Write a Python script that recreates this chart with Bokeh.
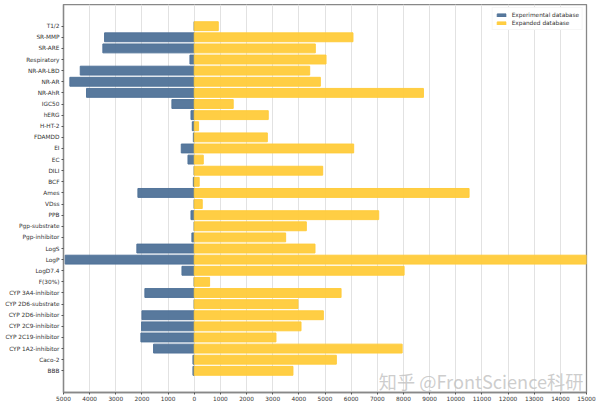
from bokeh.embed import file_html
from bokeh.models import ColumnDataSource, FactorRange, FixedTicker, Label
from bokeh.plotting import figure
from bokeh.resources import INLINE

# top to bottom, same order as the picture
tasks = ["T1/2", "SR-MMP", "SR-ARE", "Respiratory", "NR-AR-LBD", "NR-AR", "NR-AhR", "IGC50",
         "hERG", "H-HT-2", "FDAMDD", "EI", "EC", "DILI", "BCF", "Ames", "VDss", "PPB",
         "Pgp-substrate", "Pgp-inhibitor", "LogS", "LogP", "LogD7.4", "F(30%)",
         "CYP 3A4-inhibitor", "CYP 2D6-substrate", "CYP 2D6-inhibitor", "CYP 2C9-inhibitor",
         "CYP 2C19-inhibitor", "CYP 1A2-inhibitor", "Caco-2", "BBB"]
experimental = [0, 3430, 3495, 165, 4360, 4757, 4120, 855,
                125, 75, 35, 497, 240, 0, 35, 2155, 0, 125,
                0, 90, 2195, 4936, 470, 0,
                1888, 0, 2000, 2015,
                2040, 1556, 50, 50]
expanded = [920, 6070, 4630, 5040, 4415, 4822, 8764, 1490,
            2830, 165, 2795, 6097, 345, 4912, 190, 10510, 306, 7054,
            4286, 3495, 4618, 15000, 8025, 587,
            5615, 3967, 4937, 4083,
            3125, 7950, 5434, 3775]
x_ticks = list(range(-5000, 15001, 1000))

source = ColumnDataSource(data=dict(task=tasks, left=[-v for v in experimental], right=expanded))

y_range = FactorRange(factors=tasks[::-1], range_padding=1.45, range_padding_units="absolute")

p = figure(frame_width=523, frame_height=388, y_range=y_range, x_range=(-5000, 15000),
           output_backend="svg", toolbar_location=None,
           min_border_left=58, min_border_right=10, min_border_top=0, min_border_bottom=10)
p.margin = (4, 0, 0, 2)

p.hbar(y="task", left="left", right=0, height=0.8, source=source, color="#4F7298", alpha=0.95,
       legend_label="Experimental database")
p.hbar(y="task", left=0, right="right", height=0.8, source=source, color="#FFCB3A", alpha=0.95,
       legend_label="Expanded database")

p.xaxis.ticker = FixedTicker(ticks=x_ticks)
p.xaxis.major_label_overrides = {t: str(abs(t)) for t in x_ticks}
p.xaxis.major_label_standoff = 1
p.yaxis.major_label_standoff = 2
for ax in (p.xaxis, p.yaxis):
    ax.major_label_text_font = "DejaVu Sans"
    ax.major_label_text_font_size = "5.8px"
    ax.major_label_text_color = "#333333"
    ax.axis_line_color = "#888888"
    ax.axis_line_width = 1.3
    ax.major_tick_line_color = "#555555"
    ax.major_tick_in = 0
    ax.major_tick_out = 2
    ax.minor_tick_line_color = None

p.ygrid.grid_line_color = None
p.xgrid.grid_line_color = "#e2e2e2"
p.xgrid.grid_line_width = 1
p.outline_line_color = "#888888"
p.outline_line_width = 1.3

p.legend.location = "top_right"
p.legend.label_text_font = "DejaVu Sans"
p.legend.label_text_font_size = "5.8px"
p.legend.label_text_color = "#333333"
p.legend.glyph_width = 11
p.legend.glyph_height = 4
p.legend.label_height = 7
p.legend.spacing = 1
p.legend.padding = 3
p.legend.margin = 3
p.legend.label_standoff = 5
p.legend.border_line_color = "#eeeeee"

# watermark, screen units here count from the frame's bottom left
p.add_layout(Label(x=520, y=-1, x_units="screen", y_units="screen", text="知乎 @FrontScience科研",
                   text_align="right", text_font="Noto Sans CJK SC", text_font_size="18.2px",
                   text_color="#bdbdbd", text_alpha=0.75))

open("out.html", "w").write(file_html(p, INLINE))
